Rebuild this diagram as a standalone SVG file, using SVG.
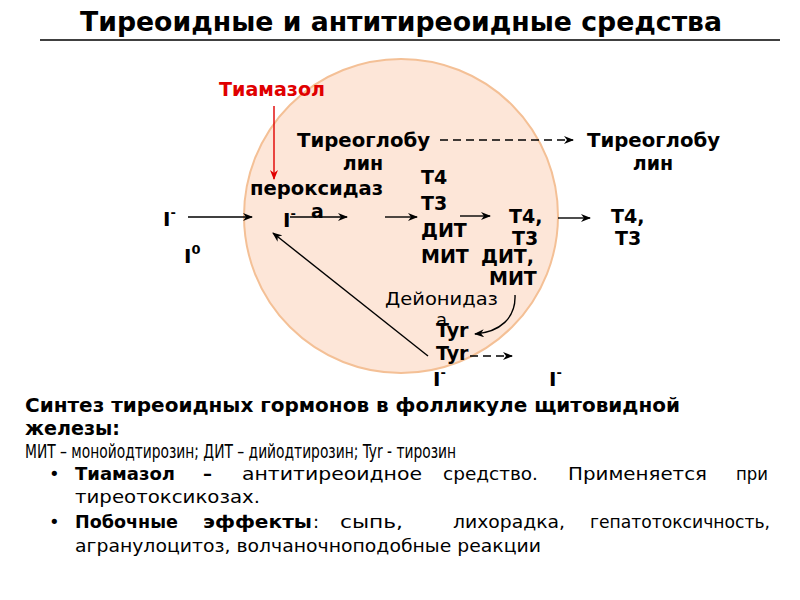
<svg xmlns="http://www.w3.org/2000/svg" width="800" height="600" viewBox="0 0 800 600">
<defs>
<style>
text{font-family:"DejaVu Sans","Liberation Sans",sans-serif;fill:#000}
.d{font-weight:bold;font-size:19px}
.h{font-weight:bold;font-size:19px}
.i{font-weight:bold;font-size:20px}
.sup{font-size:13px}
.red{fill:#e00000}
.c line,.c path{stroke:#000;stroke-width:1.4;fill:none}
.b{font-size:18px}
.cap{font-size:19px}
.cd{font-family:"DejaVu Sans Condensed","DejaVu Sans",sans-serif;font-stretch:condensed}
.bb{font-weight:bold}
</style>
<marker id="ah" viewBox="0 0 10 8" refX="9" refY="4" markerWidth="10" markerHeight="8" markerUnits="userSpaceOnUse" orient="auto">
<path d="M0,0 L10,4 L0,8 L3,4 z" fill="#000"/>
</marker>
<marker id="ahr" viewBox="0 0 10 8" refX="9" refY="4" markerWidth="10" markerHeight="8" markerUnits="userSpaceOnUse" orient="auto">
<path d="M0,0 L10,4 L0,8 L3,4 z" fill="#e00000"/>
</marker>
</defs>
<rect width="800" height="600" fill="#fff"/>
<g id="title">
<text class="cd" x="80" y="31" font-size="27" font-weight="bold" textLength="642" lengthAdjust="spacingAndGlyphs">Тиреоидные и антитиреоидные средства</text>
<line x1="40" y1="40" x2="780" y2="40" stroke="#000" stroke-width="1.5"/>
</g>
<g id="follicle">
<circle cx="401" cy="216" r="157" fill="#fde6d8" stroke="#f4c096" stroke-width="2"/>
</g>
<g class="c" id="connectors">
<line x1="274" y1="106" x2="274" y2="179" style="stroke:#e00000" marker-end="url(#ahr)"/>
<line x1="440" y1="140" x2="573" y2="140" stroke-dasharray="8,5" marker-end="url(#ah)"/>
<line x1="188" y1="217" x2="252" y2="217" marker-end="url(#ah)"/>
<line x1="290" y1="217" x2="347" y2="217" marker-end="url(#ah)"/>
<line x1="385" y1="217" x2="417" y2="217" marker-end="url(#ah)"/>
<line x1="460" y1="216" x2="490" y2="216" marker-end="url(#ah)"/>
<line x1="558" y1="218" x2="590" y2="218" marker-end="url(#ah)"/>
<line x1="428" y1="356" x2="273" y2="233" marker-end="url(#ah)"/>
<path d="M515,295 C516,318 500,332 475,334" marker-end="url(#ah)"/>
<line x1="470" y1="356" x2="512" y2="356" stroke-dasharray="8,5" marker-end="url(#ah)"/>
</g>
<g id="thiamazole"><text class="d red" x="219" y="96" textLength="106" lengthAdjust="spacingAndGlyphs">Тиамазол</text></g>
<g id="thyroglobulin-in"><text class="d" x="297" y="147" textLength="133" lengthAdjust="spacingAndGlyphs">Тиреоглобу</text><text class="d" x="363" y="170" text-anchor="middle">лин</text></g>
<g id="thyroglobulin-out"><text class="d" x="587" y="147" textLength="133" lengthAdjust="spacingAndGlyphs">Тиреоглобу</text><text class="d" x="653" y="170" text-anchor="middle">лин</text></g>
<g id="peroxidase"><text class="d" x="250" y="195" textLength="133" lengthAdjust="spacingAndGlyphs">пероксидаз</text><text class="d" x="311" y="218">а</text></g>
<g id="iodide-out"><text class="i" x="163" y="226">I<tspan class="sup" dy="-9">-</tspan></text></g>
<g id="iodine0"><text class="i" x="184" y="263">I<tspan class="sup" dy="-9">0</tspan></text></g>
<g id="iodide-in"><text class="i" x="283" y="227">I<tspan class="sup" dy="-9">-</tspan></text></g>
<g id="hormones-colloid">
<text class="h" x="421" y="184">Т4</text>
<text class="h" x="421" y="210">Т3</text>
<text class="h" x="421" y="237">ДИТ</text>
<text class="h" x="421" y="263">МИТ</text>
</g>
<g id="hormones-cell">
<text class="h" x="509" y="223">Т4,</text>
<text class="h" x="512" y="245">Т3</text>
<text class="h" x="481" y="263">ДИТ,</text>
<text class="h" x="489" y="285">МИТ</text>
</g>
<g id="hormones-blood">
<text class="h" x="611" y="223">Т4,</text>
<text class="h" x="615" y="245">Т3</text>
</g>
<g id="deiodinase"><text x="385" y="305" font-size="18" textLength="113" lengthAdjust="spacingAndGlyphs">Дейонидаз</text><text x="436" y="326" font-size="18">а</text></g>
<g id="tyr1"><text class="d" x="436" y="337">Tyr</text></g>
<g id="tyr2"><text class="d" x="436" y="360">Tyr</text></g>
<g id="iodide-recycled"><text class="i" x="433" y="386">I<tspan class="sup" dy="-9">-</tspan></text></g>
<g id="iodide-lost"><text class="i" x="549" y="386">I<tspan class="sup" dy="-9">-</tspan></text></g>
<g id="caption">
<text class="cap bb cd" x="25" y="412" textLength="655" lengthAdjust="spacingAndGlyphs">Синтез тиреоидных гормонов в фолликуле щитовидной</text>
<text class="cap bb cd" x="25" y="435" textLength="95" lengthAdjust="spacingAndGlyphs">железы:</text>
<text class="cap cd" x="25" y="458" textLength="431" lengthAdjust="spacingAndGlyphs">МИТ – монойодтирозин; ДИТ – дийодтирозин; Tyr - тирозин</text>
<text class="b" x="49" y="480">•</text>
<text class="b" y="480"><tspan class="bb" x="75" textLength="100" lengthAdjust="spacingAndGlyphs">Тиамазол</tspan><tspan class="bb" x="203">–</tspan><tspan x="242" textLength="180" lengthAdjust="spacingAndGlyphs">антитиреоидное</tspan><tspan x="443" textLength="95" lengthAdjust="spacingAndGlyphs">средство.</tspan><tspan x="568" textLength="139" lengthAdjust="spacingAndGlyphs">Применяется</tspan><tspan x="736" textLength="32" lengthAdjust="spacingAndGlyphs">при</tspan></text>
<text class="b" x="75" y="503" textLength="185" lengthAdjust="spacingAndGlyphs">тиреотоксикозах.</text>
<text class="b" x="49" y="528">•</text>
<text class="b" y="528"><tspan class="bb" x="75" textLength="103" lengthAdjust="spacingAndGlyphs">Побочные</tspan><tspan class="bb" x="203" textLength="109" lengthAdjust="spacingAndGlyphs">эффекты</tspan><tspan x="313">:</tspan><tspan x="340" textLength="63" lengthAdjust="spacingAndGlyphs">сыпь,</tspan><tspan x="453" textLength="112" lengthAdjust="spacingAndGlyphs">лихорадка,</tspan><tspan x="590" textLength="180" lengthAdjust="spacingAndGlyphs">гепатотоксичность,</tspan></text>
<text class="b" x="75" y="552" textLength="466" lengthAdjust="spacingAndGlyphs">агранулоцитоз, волчаночноподобные реакции</text>
</g>
</svg>
